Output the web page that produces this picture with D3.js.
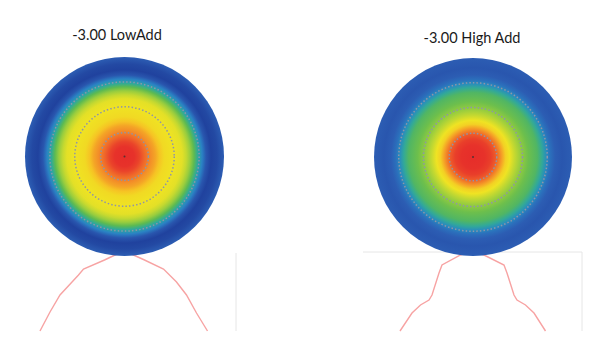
<!DOCTYPE html>
<html>
<head>
<meta charset="utf-8">
<script src="https://cdn.jsdelivr.net/npm/d3@7"></script>
<style>
  html, body { margin: 0; padding: 0; background: #fff; }
  svg { display: block; }
</style>
</head>
<body>
<svg id="chart" width="600" height="357"></svg>
<script>
// ---------- data ----------
const titles = ["-3.00 LowAdd", "-3.00 High Add"];

// colour legend of the power map (relative power 0..1 -> colour)
const powerStops  = [0.0, 0.1, 0.2, 0.3, 0.4, 0.5, 0.6, 0.7, 0.8, 0.9, 1.0];
const powerColors = ["#1d3b99", "#2c5db3", "#2a82c4", "#27a5a9", "#5cba52", "#b3d536",
                     "#efe323", "#f6c324", "#f39128", "#ee5b2a", "#e62d2a"];

// radial profiles (radius in % of zone radius -> relative power)
const lowRadius  = [0, 10, 15, 20, 26, 31, 35, 40, 50, 58, 62, 66, 70, 74, 78, 82, 87, 93, 100];
const lowPower   = [1.0, 0.99, 0.95, 0.88, 0.81, 0.76, 0.7, 0.63, 0.6, 0.58, 0.53, 0.47, 0.4, 0.31, 0.2, 0.08, 0.02, 0.04, 0.1];
const highRadius = [0, 12, 18, 23, 27, 30, 33, 37, 42, 48, 56, 65, 70, 74, 78, 83, 90, 100];
const highPower  = [1.0, 0.99, 0.96, 0.9, 0.82, 0.75, 0.66, 0.6, 0.53, 0.47, 0.42, 0.38, 0.32, 0.23, 0.15, 0.1, 0.08, 0.1];

// dotted reference rings (% of zone radius)
const ringRadius = [24, 50, 75];

// cross-section profiles (lateral position, height)
const lowProfileX  = [-84.5, -74.5, -64.5, -46, -41, -20, -9.5, 0, 9, 20, 39, 52, 62, 72, 83];
const lowProfileY  = [0, 19, 36, 56, 62, 71, 76, 80, 76, 71, 62, 49, 36, 18, 0];
const highProfileX = [-73, -61, -52.5, -44, -41, -34, -31, -12.5, 0, 11, 31, 34, 41, 44, 52.5, 61, 72.5];
const highProfileY = [0, 18, 26, 31, 36, 58, 66, 76, 80, 76, 66, 58, 36, 31, 26, 18, 0];

// ---------- drawing ----------
const svg = d3.select("#chart");
const color = d3.scaleLinear().domain(powerStops).range(powerColors).interpolate(d3.interpolateRgb);

const panels = [
  { title: titles[0], cx: 124.5, cy: 156.5, R: 99.5, tx: 117, ty: 40,
    radius: lowRadius, power: lowPower, px: lowProfileX, py: lowProfileY,
    frame: [[236, 253], [236, 331]] },
  { title: titles[1], cx: 473, cy: 157, R: 99, tx: 472, ty: 43,
    radius: highRadius, power: highPower, px: highProfileX, py: highProfileY,
    frame: [[363, 252], [582, 252], [582, 331]] }
];

const defs = svg.append("defs");

panels.forEach((p, i) => {
  const g = svg.append("g");

  // frame lines
  g.append("path")
    .attr("d", d3.line()(p.frame))
    .attr("fill", "none")
    .attr("stroke", "#e6e6e6")
    .attr("stroke-width", 1);

  // profile line
  const xs = d3.scaleLinear().domain([-100, 100]).range([p.cx - 100, p.cx + 100]);
  const ys = d3.scaleLinear().domain([0, 100]).range([331, 231]);
  g.append("path")
    .datum(p.px.map((x, k) => [x, p.py[k]]))
    .attr("d", d3.line().x(d => xs(d[0])).y(d => ys(d[1])))
    .attr("fill", "none")
    .attr("stroke", "#f7a3a3")
    .attr("stroke-width", 1.4);

  // power map gradient
  const rs = d3.scaleLinear().domain([0, 100]).range([0, 100]);
  const grad = defs.append("radialGradient")
    .attr("id", "grad" + i)
    .attr("cx", "50%").attr("cy", "50%").attr("r", "50%");
  grad.selectAll("stop")
    .data(p.radius.map((r, k) => ({ r, v: p.power[k] })))
    .join("stop")
    .attr("offset", d => rs(d.r) + "%")
    .attr("stop-color", d => color(d.v));

  g.append("circle")
    .attr("cx", p.cx).attr("cy", p.cy).attr("r", p.R)
    .attr("fill", `url(#grad${i})`);

  // dotted rings
  g.selectAll("circle.ring")
    .data(ringRadius)
    .join("circle")
    .attr("class", "ring")
    .attr("cx", p.cx).attr("cy", p.cy)
    .attr("r", d => d / 100 * p.R)
    .attr("fill", "none")
    .attr("stroke", "#8e95a8")
    .attr("stroke-width", 1.5)
    .attr("stroke-dasharray", "1.5,2.1");

  // centre mark
  g.append("circle")
    .attr("cx", p.cx).attr("cy", p.cy).attr("r", 1)
    .attr("fill", "#5a3030");

  // title
  g.append("text")
    .attr("x", p.tx).attr("y", p.ty)
    .attr("text-anchor", "middle")
    .attr("font-family", "Lato, 'Open Sans', sans-serif")
    .attr("font-size", 14.5)
    .attr("fill", "#1a1a1a")
    .text(p.title);
});
</script>
</body>
</html>
